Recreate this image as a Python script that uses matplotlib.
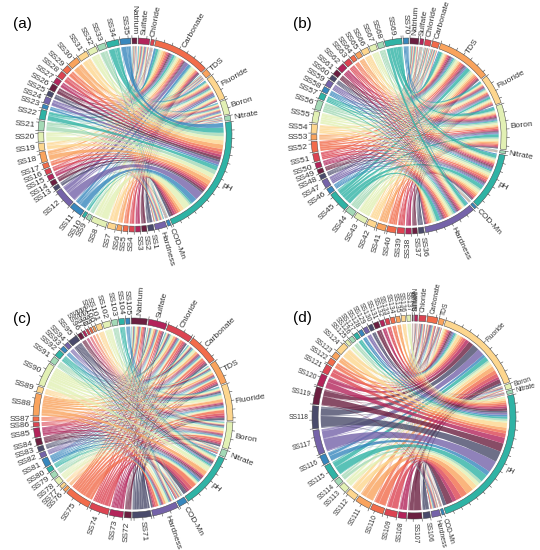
import numpy as np
import matplotlib
matplotlib.use('Agg')
import matplotlib.pyplot as plt
from matplotlib.path import Path
from matplotlib.patches import PathPatch, Wedge

plt.rcParams['font.family'] = ['Liberation Sans', 'DejaVu Sans']

# 参数节点（顺时针，从顶部开始）
params = ['Natrium', 'Sulfate', 'Chloride', 'Carbonate', 'TDS', 'Fluoride',
          'Boron', 'Nitrate', 'pH', 'COD-Mn', 'Hardness']

# 各面板参数权重（从图中读取的弧长）
a_params = [3, 7, 2, 34.7, 4, 16, 9, 3, 76.5, 2, 7]
b_params = [5, 2, 3.5, 4, 31, 17, 26, 1.5, 32.7, 1.5, 30]
c_params = [9, 10.5, 15, 17, 13.5, 21, 15.5, 4, 31.5, 5, 15]
d_params = [0.5, 1.8, 4, 6, 3, 52, 3, 2, 85, 1.5, 5]

# 各面板样本权重
a_samples = [3.5, 3, 3, 3, 3, 3, 5, 9.5, 2.5, 2, 8, 11.5, 2.5, 3, 3, 3, 3, 6.4,
             4.5, 6, 6, 6, 2.5, 4, 3, 4, 3.5, 4, 4, 6.5, 6, 5.5, 5, 7.5, 6.5]
b_samples = [3, 2.6, 3, 4, 5, 5, 5, 7, 5, 11, 3, 4.5, 2.5, 2.5, 3, 4.5, 6, 3,
             5, 6.5, 5.5, 3.5, 3, 3.5, 2.5, 3, 4, 3.5, 2.5, 3, 4, 4, 3.5, 9.5, 3]
c_samples = [11, 4, 8, 11.5, 15, 2, 2, 4, 3.5, 3, 5, 3, 3, 4, 5.5, 2.5, 2.5, 13,
             3.5, 14, 4, 4, 2.5, 2.5, 5.5, 2.5, 1.5, 1.3, 1.3, 1.3, 3.3, 4.5,
             3.5, 3.3, 2.5]
d_samples = [4, 8, 4.7, 7, 7.5, 8.5, 6, 4.5, 3.5, 9, 5.5, 14, 13, 10, 7, 5, 3.5,
             3.5, 6, 2, 2.5, 2.5, 2.3, 2.5, 2.3, 3, 2.3, 2.3, 2.3, 2.3, 2.3, 2.3]

a_first, b_first, c_first, d_first = 1, 36, 71, 106

palette = ['#6b1f40', '#b3245b', '#dc4452', '#f26c4b', '#f9a35d', '#fdd68e',
           '#e2f0b4', '#a3d9b6', '#2fb3a5', '#3787bd', '#7563a9', '#4a4b6b']

GAP = 0.8
R_OUT, R_IN, R_LINK = 1.0, 0.94, 0.915


def pt(deg, r):
    t = np.deg2rad(deg)
    return r * np.sin(t), r * np.cos(t)


def arc(d1, d2, r):
    n = max(2, int(abs(d2 - d1) * 2) + 2)
    t = np.deg2rad(np.linspace(d1, d2, n))
    return list(zip(r * np.sin(t), r * np.cos(t)))


def ribbon(ax, a1, a2, b1, b2, color):
    verts = arc(a1, a2, R_LINK)
    codes = [Path.MOVETO] + [Path.LINETO] * (len(verts) - 1)
    verts += [(0, 0), pt(b1, R_LINK)]
    codes += [Path.CURVE3, Path.CURVE3]
    seg = arc(b1, b2, R_LINK)[1:]
    verts += seg
    codes += [Path.LINETO] * len(seg)
    verts += [(0, 0), pt(a1, R_LINK), (0, 0)]
    codes += [Path.CURVE3, Path.CURVE3, Path.CLOSEPOLY]
    ax.add_patch(PathPatch(Path(verts, codes), fc=color, ec='none', alpha=0.8, lw=0))


def draw_panel(ax, pvals, svals, first, start, fs):
    names = params + ['SS%d' % (first + i) for i in range(len(svals))]
    S = sum(svals)
    P = sum(pvals)
    pw = [p * S / P for p in pvals]
    widths = pw + list(svals)
    n = len(widths)
    scale = (360 - n * GAP) / sum(widths)
    starts = []
    pos = start
    for w in widths:
        starts.append(pos)
        pos += w * scale + GAP
    colors = [palette[i % 12] for i in range(n)]
    np_ = len(pvals)
    ns = len(svals)

    # 连接矩阵：样本 × 参数
    link = [[svals[i] * pvals[j] / P for j in range(np_)] for i in range(ns)]

    # 参数端位置（顺时针，样本逆序）
    p_pos = {}
    for j in range(np_):
        cur = starts[j]
        for i in range(ns - 1, -1, -1):
            w = link[i][j] * scale
            p_pos[(i, j)] = (cur, cur + w)
            cur += w

    for i in range(ns):
        cur = starts[np_ + i]
        for j in range(np_ - 1, -1, -1):
            w = link[i][j] * scale
            b1, b2 = p_pos[(i, j)]
            ribbon(ax, cur, cur + w, b1, b2, colors[np_ + i])
            cur += w

    # 外圈
    for k in range(n):
        s = starts[k]
        e = s + widths[k] * scale
        ax.add_patch(Wedge((0, 0), R_OUT, 90 - e, 90 - s, width=R_OUT - R_IN,
                           fc=colors[k], ec='#454545', lw=0.35))
        for tk in np.arange(s, e + 1e-6, 5.0):
            x1, y1 = pt(tk, R_OUT)
            x2, y2 = pt(tk, R_OUT + 0.025)
            ax.plot([x1, x2], [y1, y2], color='#454545', lw=0.4)
        mid = (s + e) / 2
        x, y = pt(mid, 1.035)
        ang = 90 - mid
        if np.cos(np.deg2rad(ang)) >= 0:
            rot, ha = ang, 'left'
        else:
            rot, ha = ang + 180, 'right'
        ax.text(x, y, names[k], rotation=rot, ha=ha, va='center',
                rotation_mode='anchor', fontsize=fs, color='#333333')


W, H = 540, 550
fig = plt.figure(figsize=(W / 100, H / 100), dpi=100)
L = 270
panels = [
    (135, 135, 97, a_params, a_samples, a_first, -1.8, 6.0, '(a)', 13, 24),
    (409, 136, 98, b_params, b_samples, b_first, 0.6, 6.0, '(b)', 293, 24),
    (133, 418, 100, c_params, c_samples, c_first, -1.0, 6.0, '(c)', 13, 319),
    (414, 417, 102, d_params, d_samples, d_first, -1.0, 4.9, '(d)', 293, 318),
]
for cx, cy, R, pv, sv, first, start, fs, lab, lx, ly in panels:
    ax = fig.add_axes([(cx - L / 2) / W, 1 - (cy + L / 2) / H, L / W, L / H])
    lim = L / (2 * R)
    ax.set_xlim(-lim, lim)
    ax.set_ylim(-lim, lim)
    ax.axis('off')
    draw_panel(ax, pv, sv, first, start, fs)
    fig.text(lx / W, 1 - ly / H, lab, fontsize=11, va='center', ha='left')

fig.savefig('out.png', dpi=100)
